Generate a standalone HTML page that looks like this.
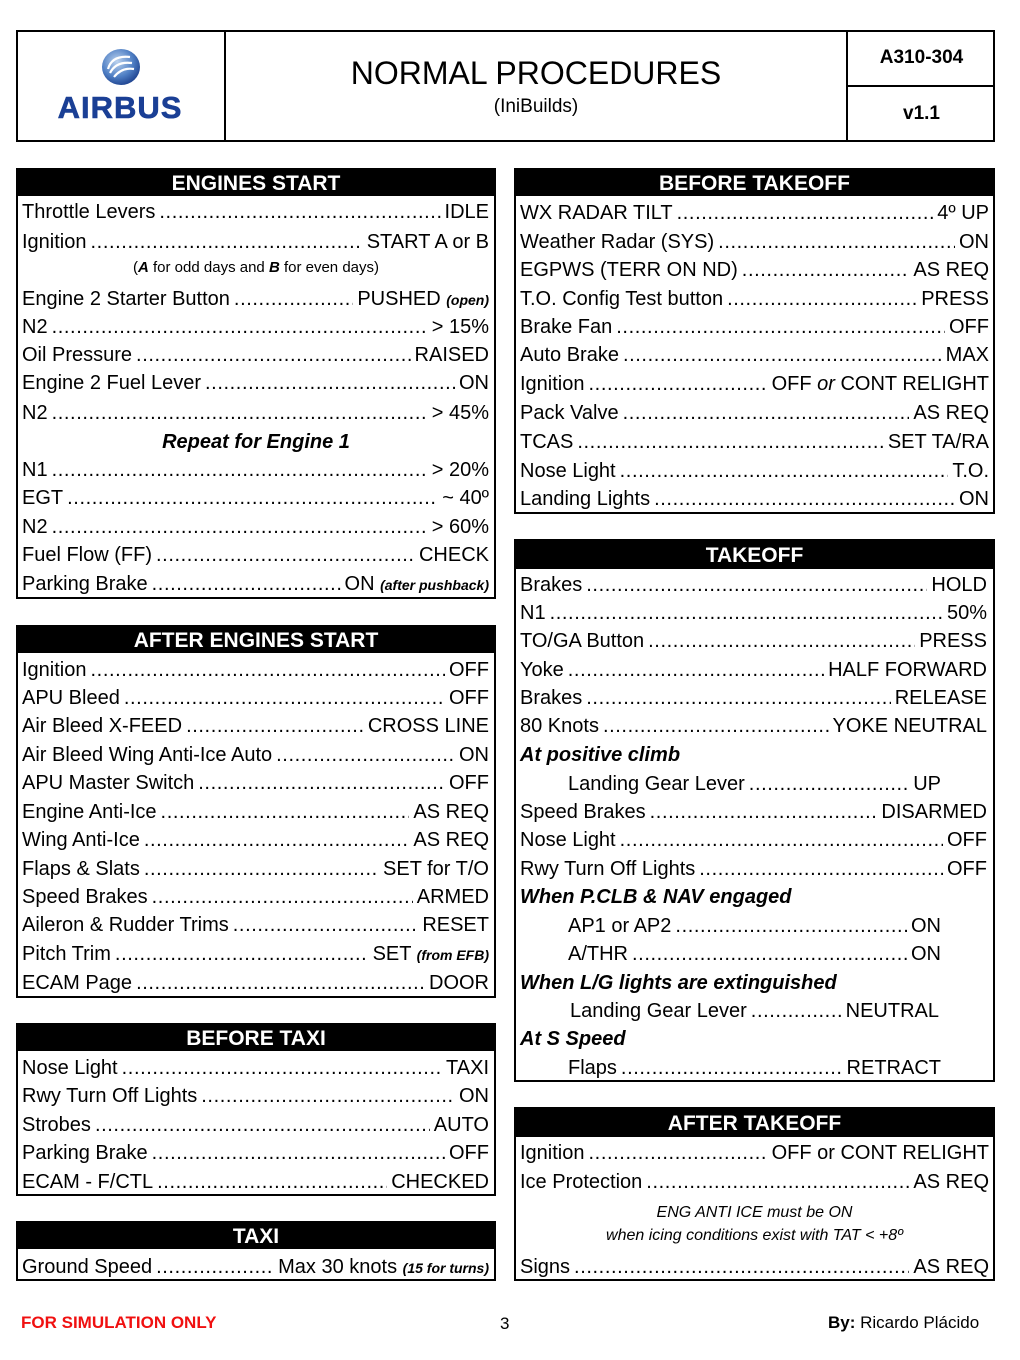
<!DOCTYPE html>
<html><head><meta charset="utf-8"><style>
*{margin:0;padding:0;box-sizing:border-box}
body{width:1020px;height:1360px;background:#fff;position:relative;font-family:"Liberation Sans",Arial,sans-serif;color:#000;overflow:hidden}
.a{position:absolute}
.box{position:absolute;border:2px solid #000}
.hd{position:absolute;background:#000;color:#fff;font-weight:bold;font-size:21px;text-align:center;line-height:31px;height:28px;overflow:hidden}
.r{position:absolute;display:flex;height:24px;line-height:24px;font-size:20px;white-space:nowrap;transform:translateY(2px)}
.r .d{flex:1;overflow:hidden;margin:0 4px;letter-spacing:0.6px}
.r .d::before{content:"................................................................................................................................................"}
.L{left:22px;width:467px}
.R{left:520px;width:469px}
.RI{left:568px;width:373px}
.c{position:absolute;text-align:center;font-size:16px;line-height:20px;transform:translateY(2px)}
.h{position:absolute;font-weight:bold;font-style:italic;font-size:20px;line-height:24px;white-space:nowrap;transform:translateY(2px)}
small{font-size:14px;font-weight:bold;font-style:italic}
</style></head><body>

<!-- header -->
<div class="box" style="left:16px;top:30px;width:979px;height:112px"></div>
<div class="a" style="left:224px;top:30px;width:2px;height:112px;background:#000"></div>
<div class="a" style="left:846px;top:30px;width:2px;height:112px;background:#000"></div>
<div class="a" style="left:846px;top:85px;width:149px;height:2px;background:#000"></div>
<svg class="a" style="left:100px;top:47px" width="42" height="40" viewBox="0 0 42 40">
<defs><radialGradient id="g" cx="0.4" cy="0.35" r="0.7"><stop offset="0" stop-color="#bcd3ef"/><stop offset="0.6" stop-color="#4f7fc4"/><stop offset="1" stop-color="#1b3f8c"/></radialGradient></defs>
<ellipse cx="21" cy="20" rx="19" ry="18" fill="url(#g)"/>
<path d="M8 22 Q12 8 30 10 M10 26 Q16 14 32 16 M14 30 Q22 20 34 22" stroke="#fff" stroke-width="2.2" fill="none"/>
</svg>
<div class="a" style="left:40px;top:90px;width:160px;text-align:center;font-size:31px;font-weight:900;color:#1a3f95;letter-spacing:1px;-webkit-text-stroke:0.6px #1a3f95">AIRBUS</div>
<div class="a" style="left:226px;top:55px;width:620px;text-align:center;font-size:32px">NORMAL PROCEDURES</div>
<div class="a" style="left:226px;top:96px;width:620px;text-align:center;font-size:19px">(IniBuilds)</div>
<div class="a" style="left:848px;top:47px;width:147px;text-align:center;font-size:19px;font-weight:bold">A310-304</div>
<div class="a" style="left:848px;top:103px;width:147px;text-align:center;font-size:19px;font-weight:bold">v1.1</div>

<!-- ENGINES START -->
<div class="box" style="left:16px;top:168px;width:480px;height:431px"></div>
<div class="hd" style="left:16px;top:168px;width:480px">ENGINES START</div>
<div class="r L" style="top:198px"><span>Throttle Levers</span><span class="d"></span><span>IDLE</span></div>
<div class="r L" style="top:228px"><span>Ignition</span><span class="d"></span><span>START A or B</span></div>
<div class="c" style="left:18px;width:476px;top:256px;font-size:15px">(<b><i>A</i></b> for odd days and <b><i>B</i></b> for even days)</div>
<div class="r L" style="top:285px"><span>Engine 2 Starter Button</span><span class="d"></span><span>PUSHED <small>(open)</small></span></div>
<div class="r L" style="top:313px"><span>N2</span><span class="d"></span><span>&gt; 15%</span></div>
<div class="r L" style="top:341px"><span>Oil Pressure</span><span class="d"></span><span>RAISED</span></div>
<div class="r L" style="top:369px"><span>Engine 2 Fuel Lever</span><span class="d"></span><span>ON</span></div>
<div class="r L" style="top:399px"><span>N2</span><span class="d"></span><span>&gt; 45%</span></div>
<div class="h" style="left:18px;width:476px;text-align:center;top:428px">Repeat for Engine 1</div>
<div class="r L" style="top:456px"><span>N1</span><span class="d"></span><span>&gt; 20%</span></div>
<div class="r L" style="top:484px"><span>EGT</span><span class="d"></span><span>~ 40º</span></div>
<div class="r L" style="top:513px"><span>N2</span><span class="d"></span><span>&gt; 60%</span></div>
<div class="r L" style="top:541px"><span>Fuel Flow (FF)</span><span class="d"></span><span>CHECK</span></div>
<div class="r L" style="top:570px"><span>Parking Brake</span><span class="d"></span><span>ON <small>(after pushback)</small></span></div>

<!-- AFTER ENGINES START -->
<div class="box" style="left:16px;top:625px;width:480px;height:373px"></div>
<div class="hd" style="left:16px;top:625px;width:480px">AFTER ENGINES START</div>
<div class="r L" style="top:656px"><span>Ignition</span><span class="d"></span><span>OFF</span></div>
<div class="r L" style="top:684px"><span>APU Bleed</span><span class="d"></span><span>OFF</span></div>
<div class="r L" style="top:712px"><span>Air Bleed X-FEED</span><span class="d"></span><span>CROSS LINE</span></div>
<div class="r L" style="top:741px"><span>Air Bleed Wing Anti-Ice Auto</span><span class="d"></span><span>ON</span></div>
<div class="r L" style="top:769px"><span>APU Master Switch</span><span class="d"></span><span>OFF</span></div>
<div class="r L" style="top:798px"><span>Engine Anti-Ice</span><span class="d"></span><span>AS REQ</span></div>
<div class="r L" style="top:826px"><span>Wing Anti-Ice</span><span class="d"></span><span>AS REQ</span></div>
<div class="r L" style="top:855px"><span>Flaps &amp; Slats</span><span class="d"></span><span>SET for T/O</span></div>
<div class="r L" style="top:883px"><span>Speed Brakes</span><span class="d"></span><span>ARMED</span></div>
<div class="r L" style="top:911px"><span>Aileron &amp; Rudder Trims</span><span class="d"></span><span>RESET</span></div>
<div class="r L" style="top:940px"><span>Pitch Trim</span><span class="d"></span><span>SET <small>(from EFB)</small></span></div>
<div class="r L" style="top:969px"><span>ECAM Page</span><span class="d"></span><span>DOOR</span></div>

<!-- BEFORE TAXI -->
<div class="box" style="left:16px;top:1023px;width:480px;height:173px"></div>
<div class="hd" style="left:16px;top:1023px;width:480px">BEFORE TAXI</div>
<div class="r L" style="top:1054px"><span>Nose Light</span><span class="d"></span><span>TAXI</span></div>
<div class="r L" style="top:1082px"><span>Rwy Turn Off Lights</span><span class="d"></span><span>ON</span></div>
<div class="r L" style="top:1111px"><span>Strobes</span><span class="d"></span><span>AUTO</span></div>
<div class="r L" style="top:1139px"><span>Parking Brake</span><span class="d"></span><span>OFF</span></div>
<div class="r L" style="top:1168px"><span>ECAM - F/CTL</span><span class="d"></span><span>CHECKED</span></div>

<!-- TAXI -->
<div class="box" style="left:16px;top:1221px;width:480px;height:60px"></div>
<div class="hd" style="left:16px;top:1221px;width:480px">TAXI</div>
<div class="r L" style="top:1253px"><span>Ground Speed</span><span class="d"></span><span>Max 30 knots <small>(15 for turns)</small></span></div>

<!-- BEFORE TAKEOFF -->
<div class="box" style="left:514px;top:168px;width:481px;height:346px"></div>
<div class="hd" style="left:514px;top:168px;width:481px">BEFORE TAKEOFF</div>
<div class="r R" style="top:199px"><span>WX RADAR TILT</span><span class="d"></span><span>4º UP</span></div>
<div class="r R" style="top:228px"><span>Weather Radar (SYS)</span><span class="d"></span><span>ON</span></div>
<div class="r R" style="top:256px"><span>EGPWS (TERR ON ND)</span><span class="d"></span><span>AS REQ</span></div>
<div class="r R" style="top:285px"><span>T.O. Config Test button</span><span class="d"></span><span>PRESS</span></div>
<div class="r R" style="top:313px"><span>Brake Fan</span><span class="d"></span><span>OFF</span></div>
<div class="r R" style="top:341px"><span>Auto Brake</span><span class="d"></span><span>MAX</span></div>
<div class="r R" style="top:370px"><span>Ignition</span><span class="d"></span><span>OFF <i>or</i> CONT RELIGHT</span></div>
<div class="r R" style="top:399px"><span>Pack Valve</span><span class="d"></span><span>AS REQ</span></div>
<div class="r R" style="top:428px"><span>TCAS</span><span class="d"></span><span>SET TA/RA</span></div>
<div class="r R" style="top:457px"><span>Nose Light</span><span class="d"></span><span>T.O.</span></div>
<div class="r R" style="top:485px"><span>Landing Lights</span><span class="d"></span><span>ON</span></div>

<!-- TAKEOFF -->
<div class="box" style="left:514px;top:539px;width:481px;height:543px"></div>
<div class="hd" style="left:514px;top:539px;width:481px;height:30px;line-height:33px">TAKEOFF</div>
<div class="r R" style="top:571px;width:467px"><span>Brakes</span><span class="d"></span><span>HOLD</span></div>
<div class="r R" style="top:599px;width:467px"><span>N1</span><span class="d"></span><span>50%</span></div>
<div class="r R" style="top:627px;width:467px"><span>TO/GA Button</span><span class="d"></span><span>PRESS</span></div>
<div class="r R" style="top:656px;width:467px"><span>Yoke</span><span class="d"></span><span>HALF FORWARD</span></div>
<div class="r R" style="top:684px;width:467px"><span>Brakes</span><span class="d"></span><span>RELEASE</span></div>
<div class="r R" style="top:712px;width:467px"><span>80 Knots</span><span class="d"></span><span>YOKE NEUTRAL</span></div>
<div class="h" style="left:520px;top:741px">At positive climb</div>
<div class="r RI" style="top:770px"><span>Landing Gear Lever</span><span class="d"></span><span>UP</span></div>
<div class="r R" style="top:798px;width:467px"><span>Speed Brakes</span><span class="d"></span><span>DISARMED</span></div>
<div class="r R" style="top:826px;width:467px"><span>Nose Light</span><span class="d"></span><span>OFF</span></div>
<div class="r R" style="top:855px;width:467px"><span>Rwy Turn Off Lights</span><span class="d"></span><span>OFF</span></div>
<div class="h" style="left:520px;top:883px">When P.CLB &amp; NAV engaged</div>
<div class="r RI" style="top:912px"><span>AP1 or AP2</span><span class="d"></span><span>ON</span></div>
<div class="r RI" style="top:940px"><span>A/THR</span><span class="d"></span><span>ON</span></div>
<div class="h" style="left:520px;top:969px">When L/G lights are extinguished</div>
<div class="r RI" style="top:997px;left:570px;width:369px"><span>Landing Gear Lever</span><span class="d"></span><span>NEUTRAL</span></div>
<div class="h" style="left:520px;top:1025px">At S Speed</div>
<div class="r RI" style="top:1054px"><span>Flaps</span><span class="d"></span><span>RETRACT</span></div>

<!-- AFTER TAKEOFF -->
<div class="box" style="left:514px;top:1107px;width:481px;height:174px"></div>
<div class="hd" style="left:514px;top:1107px;width:481px;height:30px;line-height:33px">AFTER TAKEOFF</div>
<div class="r R" style="top:1139px"><span>Ignition</span><span class="d"></span><span>OFF or CONT RELIGHT</span></div>
<div class="r R" style="top:1168px"><span>Ice Protection</span><span class="d"></span><span>AS REQ</span></div>
<div class="c" style="left:516px;width:477px;top:1201px;font-style:italic">ENG ANTI ICE must be ON</div>
<div class="c" style="left:516px;width:477px;top:1224px;font-style:italic">when icing conditions exist with TAT &lt; +8º</div>
<div class="r R" style="top:1253px"><span>Signs</span><span class="d"></span><span>AS REQ</span></div>

<!-- footer -->
<div class="a" style="left:21px;top:1313px;font-size:17px;font-weight:bold;color:#f01010">FOR SIMULATION ONLY</div>
<div class="a" style="left:500px;top:1314px;font-size:17px">3</div>
<div class="a" style="left:828px;top:1313px;font-size:17px"><b>By:</b> Ricardo Plácido</div>
</body></html>
